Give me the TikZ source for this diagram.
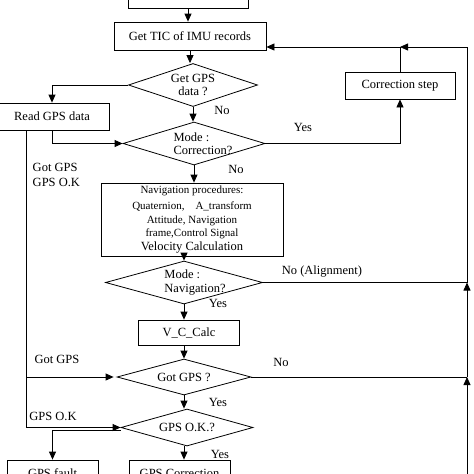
\documentclass[tikz,border=0pt]{standalone}
\usepackage{fontspec}
\setmainfont{Liberation Serif}
\usetikzlibrary{shapes.geometric,arrows.meta}

\begin{document}
\begin{tikzpicture}[x=1pt,y=-1pt,line width=0.8pt,
  >={Triangle[length=8pt,width=7pt]},
  every node/.style={font=\fontsize{12.5}{13.5}\selectfont},
  stepbox/.style={draw,rectangle,inner sep=0pt,align=center},
  decision/.style={draw,diamond,aspect=3,inner sep=0pt,align=center}]
\useasboundingbox (0,0) rectangle (474,474);
\clip (0,0) rectangle (474,474);

% boxes and decisions
\node[stepbox,minimum width=120pt,minimum height=30pt] (start) at (188,-7) {};
\node[stepbox,minimum width=152pt,minimum height=28pt] (tic) at (190,36) {Get TIC of IMU records};
\node[decision,minimum width=129pt,minimum height=43pt] (gpsq) at (193,85) {Get GPS\\data ?};
\node[stepbox,minimum width=114pt,minimum height=27pt] (readgps) at (52,116.5) {Read GPS data};
\node[decision,minimum width=142pt,minimum height=43pt] (corr) at (194,143.5) {};
\node[align=left] (corrtxt) at ([xshift=9pt]corr.center) {Mode :\\Correction?};
\node[stepbox,minimum width=110pt,minimum height=27pt] (corrstep) at (400,85.5) {Correction step};
\node[stepbox,minimum width=182pt,minimum height=73pt,font=\fontsize{11}{13.5}\selectfont] (nav) at (192,219.5)
  {Navigation procedures:\\[3pt] Quaternion,\quad A\_transform\\ Attitude, Navigation\\ frame,Control Signal\\
   \fontsize{12.5}{13.5}\selectfont Velocity Calculation};
\node[decision,minimum width=157pt,minimum height=43pt] (navq) at (184,282.5) {};
\node[align=left] (navqtxt) at ([xshift=11pt]navq.center) {Mode :\\Navigation?};
\node[stepbox,minimum width=101pt,minimum height=25pt] (vcc) at (189,332.5) {V\_C\_Calc};
\node[decision,minimum width=134pt,minimum height=36pt] (gotgps) at (184,377) {Got GPS ?};
\node[decision,minimum width=132pt,minimum height=37pt] (gpsok) at (187,427.5) {GPS O.K.?};
\node[stepbox,minimum width=91pt,minimum height=26pt] (gpsfault) at (52.5,473) {GPS fault};
\node[stepbox,minimum width=101pt,minimum height=26pt] (gpscorr) at (179.5,473) {GPS Correction};

% labels
\node (noA) at (222,110) {No};
\node (yesA) at (303,127) {Yes};
\node (noB) at (236,169) {No};
\node[align=left,anchor=west] (gotok) at (29,175) {Got GPS\\[2pt]GPS O.K};
\node (noC) at (322,272) {No (Alignment)};
\node (yesB) at (218,303) {Yes};
\node (gotlbl) at (57,359) {Got GPS};
\node (noD) at (281,362) {No};
\node (yesC) at (218,402) {Yes};
\node (oklbl) at (53,416) {GPS O.K};
\node (yesD) at (220,454) {Yes};

% connectors
\coordinate (rt) at (467,47);
\coordinate (rb) at (467,490);
\coordinate (back) at ([yshift=-11pt]tic.east);
\coordinate (tap) at ([xshift=-26pt]readgps.south);
\draw[->] (start.south) -- (start.south |- tic.north);
\draw[->] (tic.south) -- (tic.south |- gpsq.north);
\draw[->] (gpsq.south) -- (gpsq.south |- corr.north);
\draw[->] (gpsq.west) -| (readgps.north);
\draw[->] (readgps.south) |- (corr.west);
\draw[->] (corr.east) -| (corrstep.south);
\draw[->] (corrstep.north) |- (back);
\draw[->] (rt) -- (corrstep.north |- rt);
\draw[->] (corr.south) -- (corr.south |- nav.north);
\draw[->] (nav.south -| navq.north) -- (navq.north);
\draw (navq.east) -- (navq.east -| rt);
\draw[->] (navq.south) -- (navq.south |- vcc.north);
\draw[->] (vcc.south -| gotgps.north) -- (gotgps.north);
\draw (gotgps.east) -- (gotgps.east -| rt);
\draw[->] (gotgps.south) -- (gotgps.south |- gpsok.north);
\draw[->] (gpsok.south -| gotgps.south) -- (gotgps.south |- gpscorr.north);
\draw[->] (tap) |- (gpsok.west);
\draw[->,shorten >=3pt] (tap |- gotgps.west) -- (gotgps.west);
\draw[->] ([yshift=-3pt]gpsok.west) -| (gpsfault.north);
\draw[->] (rb) -- (gotgps.east -| rt);
\draw[->] (gotgps.east -| rt) -- (navq.east -| rt);
\draw (navq.east -| rt) -- (rt);
\end{tikzpicture}
\end{document}
